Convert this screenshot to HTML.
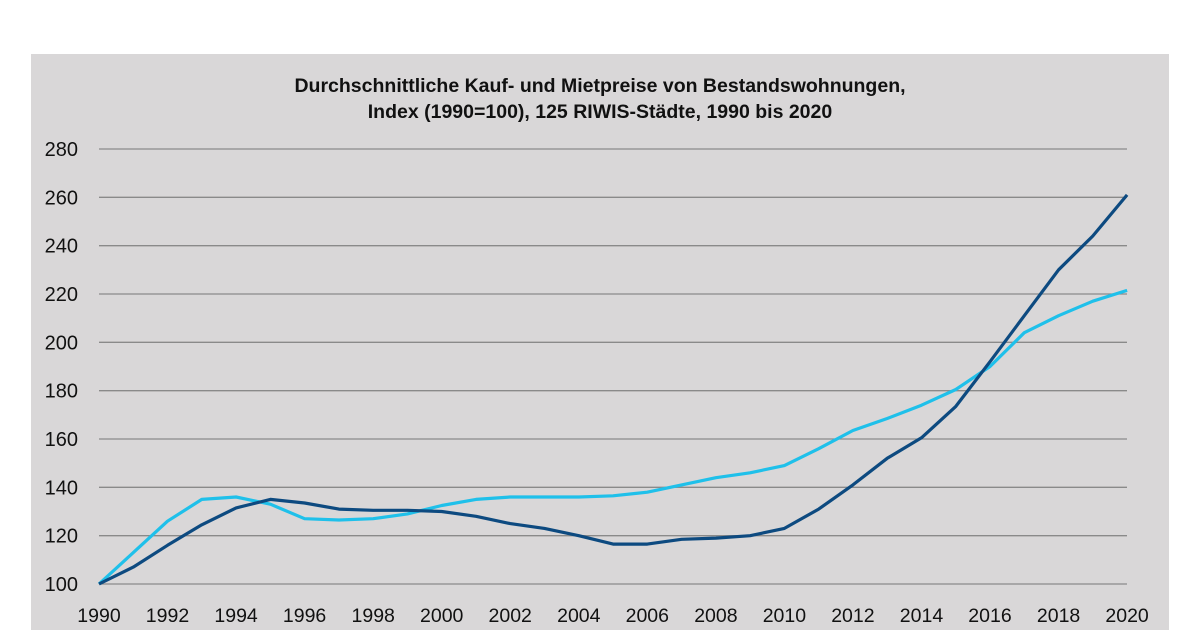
<!DOCTYPE html>
<html><head><meta charset="utf-8"><style>
body{margin:0;background:#fff;width:1200px;height:630px;overflow:hidden}
svg{display:block}
text{font-family:"Liberation Sans",sans-serif;fill:#111}
</style></head><body>
<svg width="1200" height="630" xmlns="http://www.w3.org/2000/svg">
<rect x="31" y="54" width="1138" height="576" fill="#d9d7d8"/>
<text x="600" y="92" font-size="19.5" font-weight="bold" text-anchor="middle">Durchschnittliche Kauf- und Mietpreise von Bestandswohnungen,</text>
<text x="600" y="118" font-size="19.5" font-weight="bold" text-anchor="middle">Index (1990=100), 125 RIWIS-Städte, 1990 bis 2020</text>
<g stroke="#8a8a8a" stroke-width="1.3">
<line x1="99" x2="1127" y1="584" y2="584"/>
<line x1="99" x2="1127" y1="535.7" y2="535.7"/>
<line x1="99" x2="1127" y1="487.3" y2="487.3"/>
<line x1="99" x2="1127" y1="439" y2="439"/>
<line x1="99" x2="1127" y1="390.7" y2="390.7"/>
<line x1="99" x2="1127" y1="342.3" y2="342.3"/>
<line x1="99" x2="1127" y1="294" y2="294"/>
<line x1="99" x2="1127" y1="245.7" y2="245.7"/>
<line x1="99" x2="1127" y1="197.3" y2="197.3"/>
<line x1="99" x2="1127" y1="149" y2="149"/>
</g>
<g font-size="20" text-anchor="end">
<text x="78" y="591">100</text>
<text x="78" y="542.7">120</text>
<text x="78" y="494.3">140</text>
<text x="78" y="446">160</text>
<text x="78" y="397.7">180</text>
<text x="78" y="349.3">200</text>
<text x="78" y="301">220</text>
<text x="78" y="252.7">240</text>
<text x="78" y="204.3">260</text>
<text x="78" y="156">280</text>
</g>
<g font-size="19.5" text-anchor="middle">
<text x="99" y="622">1990</text>
<text x="167.5" y="622">1992</text>
<text x="236.1" y="622">1994</text>
<text x="304.6" y="622">1996</text>
<text x="373.2" y="622">1998</text>
<text x="441.7" y="622">2000</text>
<text x="510.2" y="622">2002</text>
<text x="578.8" y="622">2004</text>
<text x="647.3" y="622">2006</text>
<text x="715.9" y="622">2008</text>
<text x="784.4" y="622">2010</text>
<text x="852.9" y="622">2012</text>
<text x="921.5" y="622">2014</text>
<text x="990" y="622">2016</text>
<text x="1058.6" y="622">2018</text>
<text x="1127.1" y="622">2020</text>
</g>
<polyline fill="none" stroke="#1fc0ea" stroke-width="3.2" stroke-linejoin="round" points="99,584 133.3,552.6 167.5,521.2 201.8,499.4 236.1,497 270.4,504.2 304.6,518.7 338.9,520 373.2,518.7 407.4,513.9 441.7,505.5 476,499.4 510.2,497 544.5,497 578.8,497 613.1,495.8 647.3,492.2 681.6,484.9 715.9,477.7 750.1,472.8 784.4,465.6 818.7,448.7 852.9,430.5 887.2,418.5 921.5,405.2 955.8,389.5 990,366.5 1024.3,332.7 1058.6,315.7 1092.8,301.2 1127.1,290.4"/>
<polyline fill="none" stroke="#0d4a80" stroke-width="3.2" stroke-linejoin="round" points="99,584 133.3,567.1 167.5,545.3 201.8,524.8 236.1,507.9 270.4,499.4 304.6,503 338.9,509.1 373.2,510.3 407.4,510.3 441.7,511.5 476,516.3 510.2,523.6 544.5,528.4 578.8,535.7 613.1,544.1 647.3,544.1 681.6,539.3 715.9,538.1 750.1,535.7 784.4,528.4 818.7,509.1 852.9,484.9 887.2,458.3 921.5,437.8 955.8,406.4 990,361.7 1024.3,315.7 1058.6,269.8 1092.8,236 1127.1,194.9"/>
</svg>
</body></html>
